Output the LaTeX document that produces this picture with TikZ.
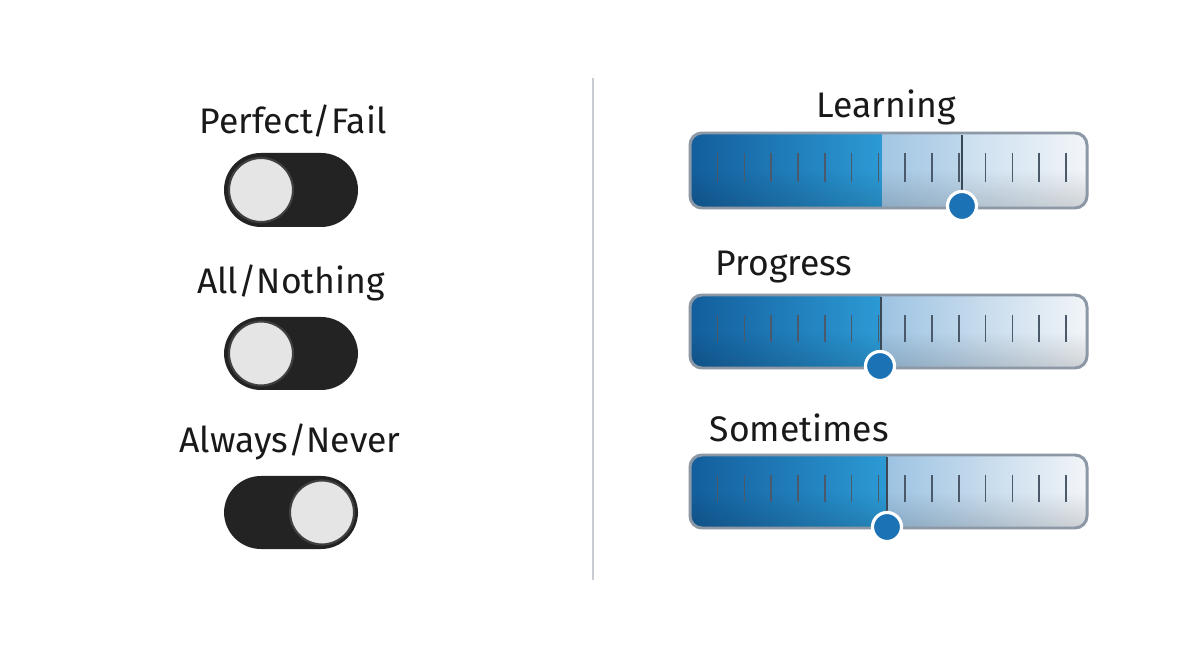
\documentclass[tikz,border=0pt]{standalone}
\usepackage{fontspec}
\setmainfont{Fira Sans}
\usetikzlibrary{fadings}
\definecolor{trk}{HTML}{232323}
\definecolor{knb}{HTML}{E5E5E5}
\definecolor{bdark}{HTML}{135E9C}
\definecolor{bmid}{HTML}{2C9AD5}
\definecolor{lmidA}{HTML}{A3C6E3}
\definecolor{lmidB}{HTML}{BDD6EB}
\definecolor{lightA}{HTML}{9DC3E2}
\definecolor{lightB}{HTML}{F2F5F8}
\definecolor{rim}{HTML}{8C98A6}
\definecolor{tick}{HTML}{4A5A6A}
\definecolor{dot}{HTML}{1B72B5}
\definecolor{divider}{HTML}{C8CCD2}
\begin{document}
\begin{tikzpicture}[x=0.01cm,y=-0.01cm,
  lbl/.style={font=\fontsize{10.1}{12}\selectfont, text=black!90, inner sep=0pt},
  track/.style={fill=trk, rounded corners=10.5pt},
  knob/.style={fill=knb, draw=black!75, line width=0.6pt},
  rimline/.style={draw=rim, line width=0.85pt, rounded corners=3.4pt},
  tickline/.style={draw=tick, line width=0.45pt},
  splitline/.style={draw=tick!80!black, line width=0.5pt},
  sdot/.style={fill=dot, draw=white, line width=0.9pt},
  shadow/.style={fill=black, opacity=0.14, path fading=north}
]
\useasboundingbox (0,0) rectangle (1200,655);
\fill[white] (0,0) rectangle (1200,655);

% divider
\draw[divider, line width=0.4pt] (593,78) coordinate (dtop) -- (593,580) coordinate (dbot);

% toggles
\node[lbl] (t1) at (293,121) {Perfect/Fail};
\fill[track] (224,153) rectangle (358,227);
\draw[knob] (261,190) circle (32);

\node[lbl] (t2) at (291,283) {All/Nothing};
\fill[track] (224,317) rectangle (358,390);
\draw[knob] (261,353.5) circle (32);

\node[lbl] (t3) at (290,442) {Always/Never};
\fill[track] (224,476) rectangle (358,549);
\draw[knob] (322,512.5) circle (32);

% ---------- Learning slider
\node[lbl] (s1) at (886,107) {Learning};
\begin{scope}
  \clip[rounded corners=3.4pt] (690,133) rectangle (1087,208);
  \shade[left color=bdark, right color=bmid] (690,133) rectangle (882,208);
  \shade[left color=lmidA, right color=lmidB] (882,133) rectangle (962,208);
  \shade[left color=lmidB!80!white, right color=lightB] (962,133) rectangle (1087,208);
  \fill[shadow] (690,170) rectangle (1087,208);
\end{scope}
\draw[rimline] (690,133) rectangle (1087,208);
\foreach \i in {0,...,13} {\draw[tickline] (717.5+26.8*\i,153) -- (717.5+26.8*\i,182);}
\draw[splitline] (962,135) -- (962,206);
\draw[sdot] (962,206) circle (14.5);

% ---------- Progress slider
\node[lbl, anchor=west] (s2) at (715,267) {Progress};
\begin{scope}
  \clip[rounded corners=3.4pt] (690,295) rectangle (1087,368);
  \shade[left color=bdark, right color=bmid] (690,295) rectangle (881,368);
  \shade[left color=lightA, right color=lightB] (881,295) rectangle (1087,368);
  \fill[shadow] (690,332) rectangle (1087,368);
\end{scope}
\draw[rimline] (690,295) rectangle (1087,368);
\foreach \i in {0,...,13} {\draw[tickline] (717.5+26.8*\i,315) -- (717.5+26.8*\i,342);}
\draw[splitline] (881,297) -- (881,366);
\draw[sdot] (880,366) circle (14.5);

% ---------- Sometimes slider
\node[lbl, anchor=west] (s3) at (709,428) {Sometimes};
\begin{scope}
  \clip[rounded corners=3.4pt] (690,455) rectangle (1087,528);
  \shade[left color=bdark, right color=bmid] (690,455) rectangle (887,528);
  \shade[left color=lightA, right color=lightB] (887,455) rectangle (1087,528);
  \fill[shadow] (690,492) rectangle (1087,528);
\end{scope}
\draw[rimline] (690,455) rectangle (1087,528);
\foreach \i in {0,...,13} {\draw[tickline] (717.5+26.8*\i,475) -- (717.5+26.8*\i,502);}
\draw[splitline] (887,457) -- (887,526);
\draw[sdot] (887,527) circle (14.5);
\end{tikzpicture}
\end{document}
